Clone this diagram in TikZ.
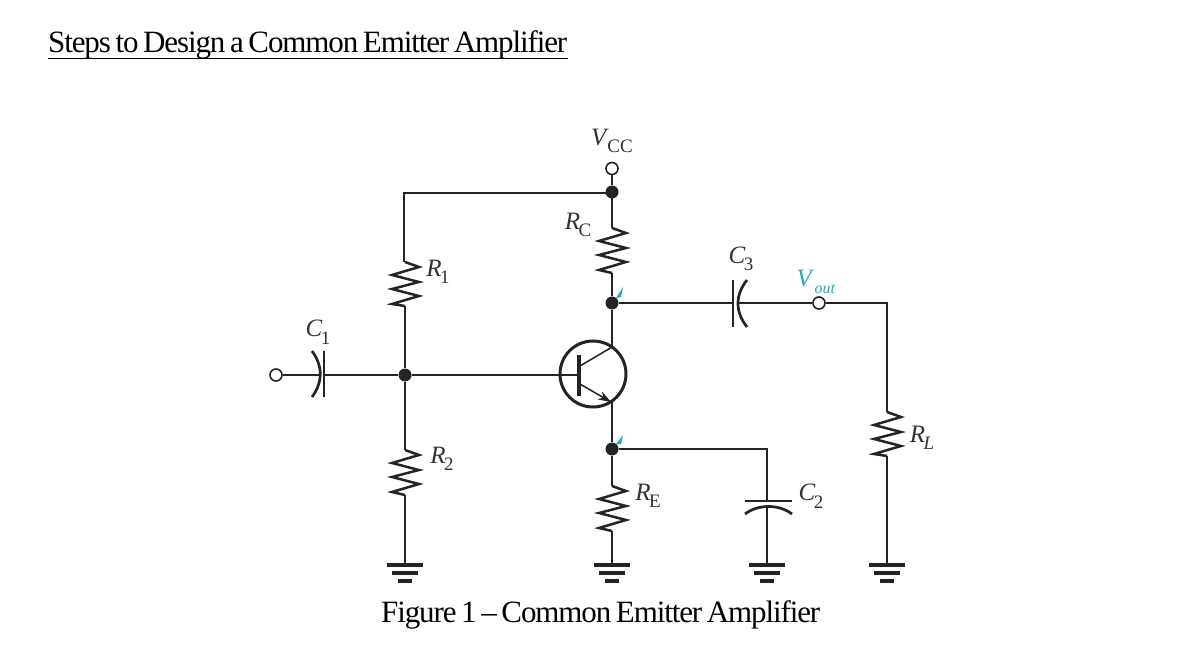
\documentclass[tikz,border=0pt]{standalone}
\usepackage{fontspec}
\setmainfont{Liberation Serif}
\newfontfamily\docfont[LetterSpace=-3.6,WordSpace=0.7]{Liberation Serif}
\newcommand{\lbl}[2]{\textit{#1}\kern-1.5pt\raisebox{-0.3em}{\fontsize{19}{19}\selectfont #2}}
\usetikzlibrary{arrows.meta}
\tikzset{
  wire/.style={line width=1.7pt,draw=wirecol},
  heavywire/.style={line width=2.2pt,draw=wirecol},
  rwire/.style={line width=2.5pt,draw=wirecol,line join=miter},
  plate/.style={line width=2.7pt,draw=wirecol},
  groundbar/.style={line width=3.2pt,draw=wirecol},
  junction/.style={circle,fill=wirecol,draw=none,inner sep=0pt,minimum size=13pt},
  port/.style={circle,fill=white,draw=wirecol,line width=1.6pt,inner sep=0pt,minimum size=12pt},
  partlabel/.style={inner sep=0pt,text=labelcol,font=\fontsize{25}{25}\selectfont},
  doctext/.style={inner sep=0pt,anchor=base west,text=black,font=\docfont\fontsize{31}{31}\selectfont},
  tick/.style={fill=tickcol,draw=none}
}
\definecolor{wirecol}{HTML}{242424}
\definecolor{labelcol}{HTML}{333333}
\definecolor{tickcol}{HTML}{2AA7C4}
\newcommand{\resv}[3]{% x, top, bottom
  \draw[rwire] (#1,#2) -- ++(14,5) -- ++(-27,8) -- ++(27,7) -- ++(-27,7) -- ++(27,7) -- ++(-27,8) -- (#1,#3);}
\newcommand{\gnd}[2]{% x, y
  \draw[groundbar] (#1-18,#2) -- (#1+18,#2);
  \draw[groundbar] (#1-13,#2+8) -- (#1+13,#2+8);
  \draw[groundbar] (#1-7,#2+16) -- (#1+7,#2+16);}
\begin{document}
\begin{tikzpicture}[x=1pt,y=-1pt]
\useasboundingbox[fill=white] (0,0) rectangle (1179,671);
% texts
\node[doctext] (title) at (48,52.5) {Steps to Design a Common Emitter Amplifier};
\draw[line width=1.8pt] (48,58.5) -- (568,58.5);
\node[doctext] (caption) at (381,622.5) {Figure 1 – Common Emitter Amplifier};
% junctions and ports
\node[port] (vcc) at (612,168.5) {};
\node[junction] (top) at (612,192) {};
\node[junction] (col) at (612,303) {};
\node[junction] (emi) at (612,449) {};
\node[junction] (bas) at (405,375) {};
\node[port] (in) at (276,375) {};
\node[port] (out) at (819,303) {};
\coordinate (tl) at (404,193);
\coordinate (tr) at (887,303);
\coordinate (c2t) at (767,449);
% wires
\draw[wire] (vcc) -- (top);
\draw[wire] (top) -- (612,193) -- (tl) -- (404,262);
\draw[heavywire] (top) -- (612,228);
\draw[heavywire] (612,273) -- (col);
\draw[wire] (col) -- (733,303);
\draw[wire] (739,303) -- (out);
\draw[wire] (out) -- (tr) -- (887,412);
\draw[wire] (887,456) -- (887,565);
\draw[wire] (405,306) -- (bas);
\draw[wire] (bas) -- (405,450);
\draw[wire] (405,495) -- (405,565);
\draw[wire] (in) -- (319,375);
\draw[wire] (324,375) -- (bas);
\draw[wire] (bas) -- (579,375);
\draw[heavywire] (col) -- (612,348);
\draw[heavywire] (612,402) -- (emi);
\draw[wire] (emi) -- (c2t) -- (767,501);
\draw[wire] (767,507) -- (767,565);
\draw[heavywire] (emi) -- (612,486);
\draw[heavywire] (612,531) -- (612,565);
% resistors
\resv{405}{262}{306}
\resv{405}{450}{495}
\resv{612}{228}{273}
\resv{612}{486}{531}
\resv{887}{412}{456}
% capacitors
\draw[plate] (733,280) -- (733,327);
\draw[plate] (747,280) .. controls (735,295) and (735,312) .. (747,327);
\draw[plate] (324,351) -- (324,397);
\draw[plate] (312,351) .. controls (323,366) and (323,382) .. (312,397);
\draw[plate] (745,501) -- (792,501);
\draw[plate] (745,514) .. controls (758,504) and (779,504) .. (792,514);
% transistor
\node[circle,draw=wirecol,line width=3pt,inner sep=0pt,minimum size=66pt] (q) at (593,374) {};
\draw[line width=4pt,draw=wirecol] (579,355) -- (579,396);
\draw[line width=1.5pt,draw=wirecol] (580,366) -- (612,347);
\draw[line width=1.5pt,draw=wirecol,-{Stealth[length=13pt,width=9pt]}] (580,384) -- (611,402);
% grounds
\gnd{405}{565}
\gnd{612}{565}
\gnd{767}{565}
\gnd{887}{565}
% cyan ticks
\fill[tick] (616,298) -- (623,287) -- (621,297) -- cycle;
\fill[tick] (616,444) -- (623,435) -- (621,444) -- cycle;
% labels
\node[partlabel] (lvcc) at (612,141) {\lbl{V}{CC}};
\node[partlabel] (lrc) at (578,225) {\lbl{R}{C}};
\node[partlabel] (lr1) at (438,272) {\lbl{R}{1}};
\node[partlabel] (lr2) at (442,459) {\lbl{R}{2}};
\node[partlabel] (lre) at (648,496) {\lbl{R}{E}};
\node[partlabel] (lrl) at (922,438) {\lbl{R}{\textit{L}}};
\node[partlabel] (lc1) at (318,332) {\lbl{C}{1}};
\node[partlabel] (lc2) at (811,496) {\lbl{C}{2}};
\node[partlabel] (lc3) at (741,259) {\lbl{C}{3}};
\node[partlabel,text=tickcol] (lvout) at (816,282) {\lbl{V}{\kern2pt\fontsize{16}{16}\selectfont\textit{out}}};
\end{tikzpicture}
\end{document}
